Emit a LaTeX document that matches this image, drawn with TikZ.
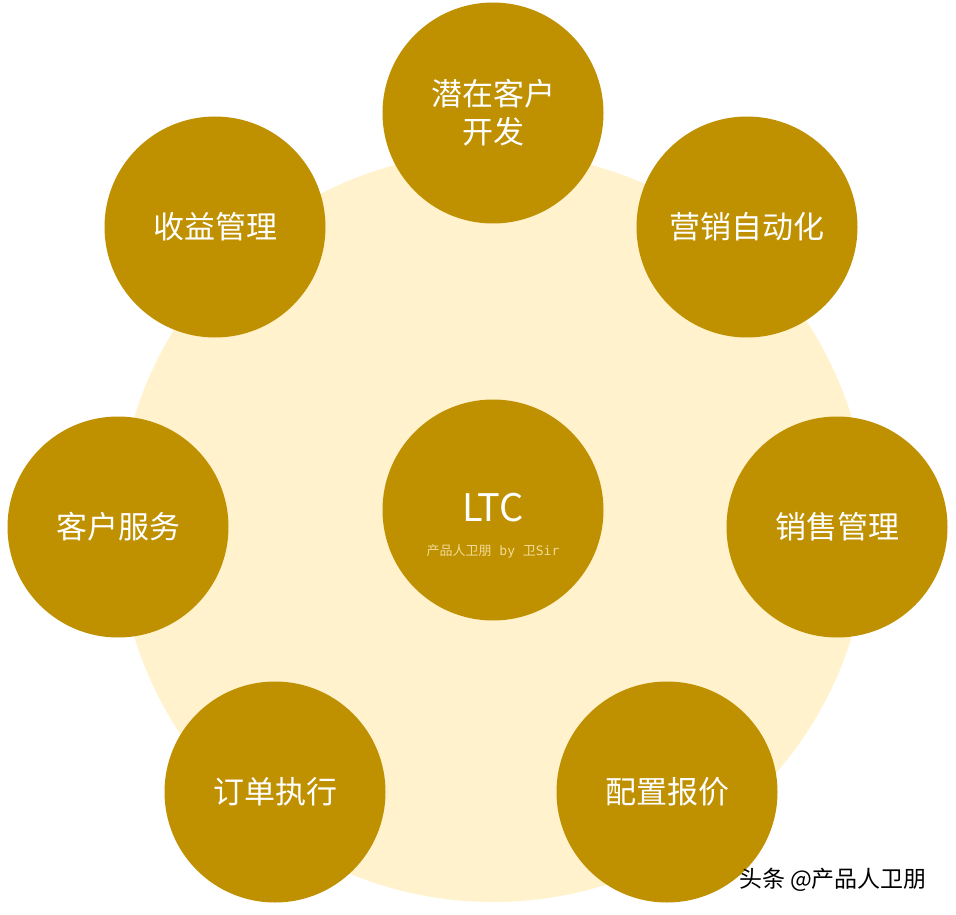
\documentclass[tikz,border=0pt]{standalone}
\usepackage{fontspec}
\newfontfamily\cjk{Noto Sans CJK SC}
\newfontfamily\wmono{DejaVu Sans Mono}
\definecolor{gold}{HTML}{BF9000}
\definecolor{pale}{HTML}{FFF2CC}
\definecolor{wm}{HTML}{F2DC95}
\begin{document}
\begin{tikzpicture}[x=1pt,y=-1pt,
  petal/.style={circle,fill=gold,minimum size=221pt,inner sep=0pt,text=white,align=center,font=\cjk\fontsize{31}{38}\selectfont}]
\useasboundingbox (0,0) rectangle (956,915);
\fill[white] (0,0) rectangle (956,915);
\node[circle,fill=pale,minimum size=750pt,inner sep=0pt] (bg) at (493,527) {};
\node[petal] (top) at (493,113) {潜在客户\\开发};
\node[petal] (yx) at (747,227) {营销自动化};
\node[petal] (sy) at (215,227) {收益管理};
\node[petal] (xs) at (837,527) {销售管理};
\node[petal] (kh) at (118,527) {客户服务};
\node[petal] (dd) at (275,792) {订单执行};
\node[petal] (pz) at (667,792) {配置报价};
\node[petal] (ltc) at (493,510) {};
\node[text=white,font=\cjk\fontsize{38}{40}\selectfont] (ltct) at (493,508) {LTC};
\node[text=wm,font=\fontsize{13}{15}\selectfont,inner sep=0pt] (wmk) at (493,551) {{\cjk 产品人卫朋}{\wmono\ by\ }{\cjk 卫}{\wmono Sir}};
\node[text=white,font=\cjk\fontsize{23}{25}\selectfont] (srcs) at (834.5,881.5) {头条 @产品人卫朋};
\node[text=black,font=\cjk\fontsize{23}{25}\selectfont] (src) at (833,880) {头条 @产品人卫朋};
\end{tikzpicture}
\end{document}
